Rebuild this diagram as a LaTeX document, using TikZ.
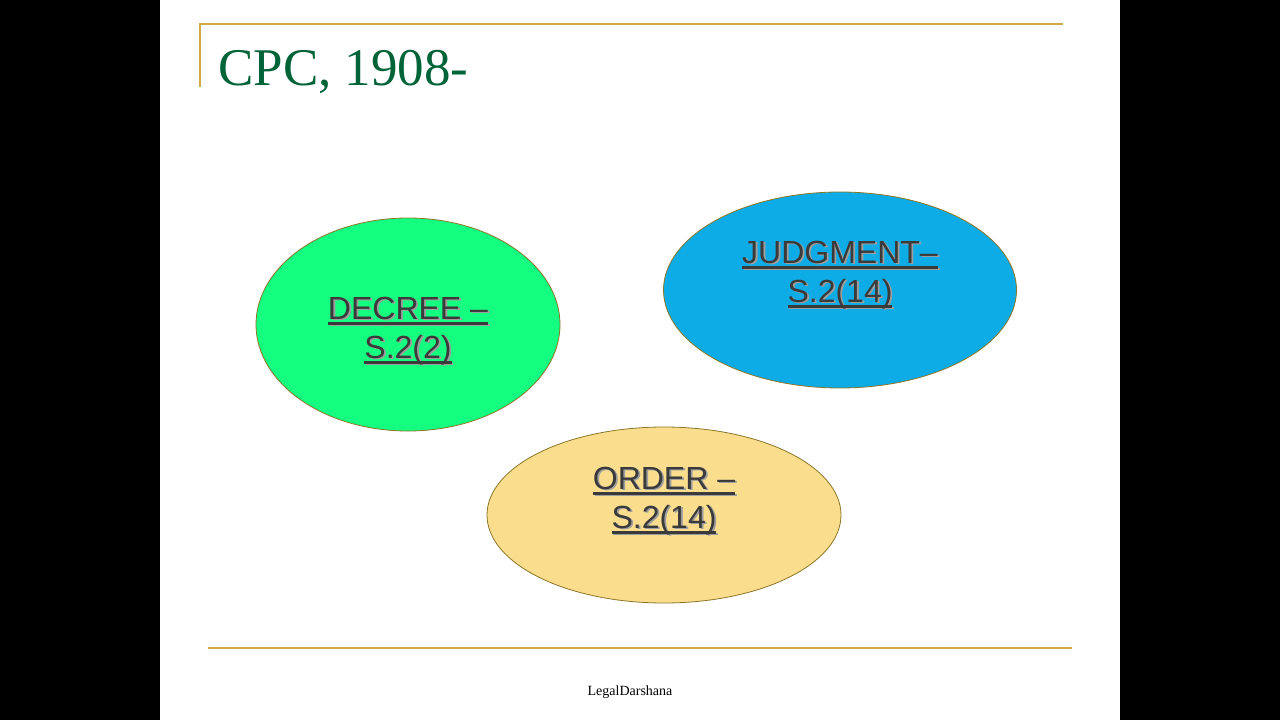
\documentclass[tikz,border=0pt]{standalone}
\usepackage{fontspec}
\setmainfont{Liberation Serif}
\newfontfamily\slidesans{Liberation Sans}
\usetikzlibrary{shapes.geometric}
\definecolor{Gold}{RGB}{210,168,64}
\definecolor{TitleGreen}{RGB}{0,100,56}
\definecolor{Mint}{RGB}{20,255,128}
\definecolor{Sky}{RGB}{14,172,230}
\definecolor{Sand}{RGB}{250,222,142}
\definecolor{Rim}{RGB}{140,118,40}
\definecolor{Ink}{RGB}{58,58,58}
\newcommand{\ulbox}[1]{\setbox0\hbox{#1}\rlap{\rule[-5.5pt]{\wd0}{2.6pt}}\box0}
\newcommand{\shadowline}[1]{\rlap{\hspace{1.8pt}\raisebox{-1.8pt}{\color{black!38}\ulbox{#1}}}\ulbox{#1}}

\begin{document}
\begin{tikzpicture}[x=1pt,y=-1pt,
  bubble/.style={ellipse,draw=Rim,line width=0.8pt,inner sep=0pt},
  caption/.style={anchor=base,align=center,text=Ink,font=\slidesans\fontsize{32}{39}\selectfont},
  goldrule/.style={draw=Gold,line width=2pt}]
\fill[black] (0,0) rectangle (1280,720);
\fill[white] (160,0) rectangle (1120,720);
\draw[goldrule] (200,87) -- (200,24) -- (1063,24);
\draw[goldrule] (208,648) -- (1072,648);

\node[anchor=base west,inner sep=0pt,text=TitleGreen,font=\fontsize{53}{60}\selectfont] at (218,85) (title) {CPC, 1908-};

\node[bubble,fill=Mint,minimum width=304pt,minimum height=213pt] at (408,324.5) (decree) {};
\node[bubble,fill=Sky,minimum width=353pt,minimum height=196pt] at (840,290) (judgment) {};
\node[bubble,fill=Sand,minimum width=354pt,minimum height=176pt] at (664,515) (order) {};

\node[caption] at ([yshift=-33.5pt]decree.center) (decreetext) {\shadowline{DECREE –}\\\shadowline{S.2(2)}};
\node[caption] at ([yshift=-12pt]judgment.center) (judgmenttext) {\shadowline{JUDGMENT–}\\\shadowline{S.2(14)}};
\node[caption] at ([yshift=-13pt]order.center) (ordertext) {\shadowline{ORDER –}\\\shadowline{S.2(14)}};

\node[anchor=base,font=\fontsize{14}{16}\selectfont] at (630,695) (footer) {LegalDarshana};
\end{tikzpicture}
\end{document}
